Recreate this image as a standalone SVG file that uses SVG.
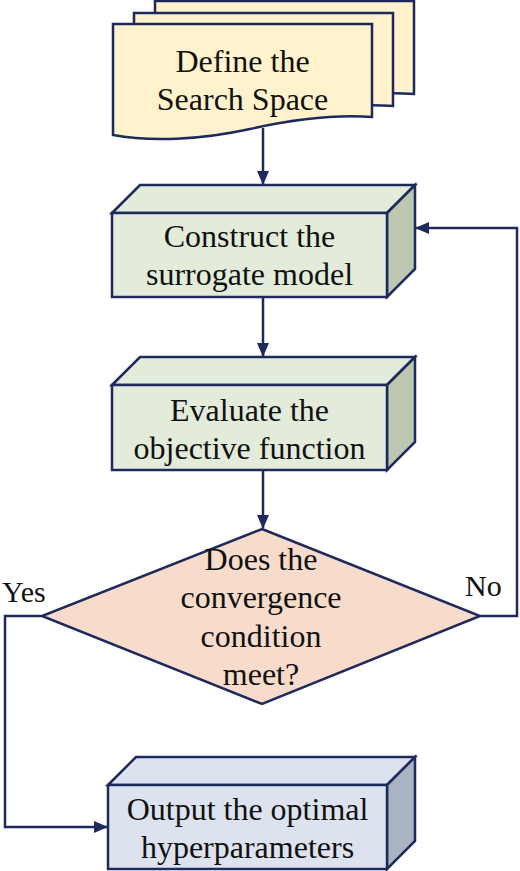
<svg xmlns="http://www.w3.org/2000/svg" width="520" height="871" viewBox="0 0 520 871">
<defs>
<style>
.stk{stroke:#1f2a5c;stroke-width:2.5;stroke-linejoin:miter}
.doc{fill:#fff2cc}
.green{fill:#e3ebda}
.greenSide{fill:#bcc6b0}
.blue{fill:#dce3ee}
.blueSide{fill:#abb3c2}
.dia{fill:#f8dccb}
.lbl{font-family:"Liberation Serif","Times New Roman",serif;font-size:32px;fill:#111;text-anchor:middle}
.yn{font-family:"Liberation Serif","Times New Roman",serif;font-size:30px;fill:#111}
.conn{fill:none;stroke:#1f2a5c;stroke-width:2.5}
</style>
<path id="page" d="M113,24 H372 V117 C330,114 290,120 250,129 C200,140 150,142 113,135 Z"/>
<marker id="arr" markerUnits="userSpaceOnUse" markerWidth="14" markerHeight="14" viewBox="0 0 14 14" refX="13" refY="7" orient="auto">
<path d="M0,1 L14,7 L0,13 Z" fill="#1f2a5c"/>
</marker>
</defs>

<g id="node-define">
<use href="#page" class="doc stk" transform="translate(42,-23)"/>
<use href="#page" class="doc stk" transform="translate(21,-11)"/>
<use href="#page" class="doc stk"/>
<text class="lbl" x="242.5" y="72">Define the</text>
<text class="lbl" x="242.5" y="110">Search Space</text>
</g>

<g id="node-construct">
<path class="green stk" d="M112,213 L140,185 H415 L387,213 Z"/>
<path class="greenSide stk" d="M387,213 L415,185 V269 L387,297 Z"/>
<rect class="green stk" x="112" y="213" width="275" height="84"/>
<text class="lbl" x="249.5" y="247">Construct the</text>
<text class="lbl" x="249.5" y="285">surrogate model</text>
</g>

<g id="node-evaluate">
<path class="green stk" d="M112,385 L140,357 H415 L387,385 Z"/>
<path class="greenSide stk" d="M387,385 L415,357 V442 L387,470 Z"/>
<rect class="green stk" x="112" y="385" width="275" height="85"/>
<text class="lbl" x="249.5" y="421">Evaluate the</text>
<text class="lbl" x="249.5" y="459">objective function</text>
</g>

<g id="node-decision">
<path class="dia stk" d="M262,529 L480,616 L262,704 L42,616 Z"/>
<text class="lbl" x="261" y="570">Does the</text>
<text class="lbl" x="261" y="608">convergence</text>
<text class="lbl" x="261" y="647">condition</text>
<text class="lbl" x="261" y="685">meet?</text>
</g>

<g id="node-output">
<path class="blue stk" d="M108,785 L136,757 H415 L387,785 Z"/>
<path class="blueSide stk" d="M387,785 L415,757 V841 L387,869 Z"/>
<rect class="blue stk" x="108" y="785" width="279" height="84"/>
<text class="lbl" x="247.5" y="820">Output the optimal</text>
<text class="lbl" x="247.5" y="858">hyperparameters</text>
</g>

<g id="connectors">
<path class="conn" d="M263,128 V184" marker-end="url(#arr)"/>
<path class="conn" d="M263,297 V356" marker-end="url(#arr)"/>
<path class="conn" d="M263,470 V528" marker-end="url(#arr)"/>
<path class="conn" d="M42,616 H5 V827 H107" marker-end="url(#arr)"/>
<path class="conn" d="M480,616 H517 V228 H416" marker-end="url(#arr)"/>
<text class="yn" x="2" y="602">Yes</text>
<text class="yn" x="465" y="596">No</text>
</g>
</svg>
